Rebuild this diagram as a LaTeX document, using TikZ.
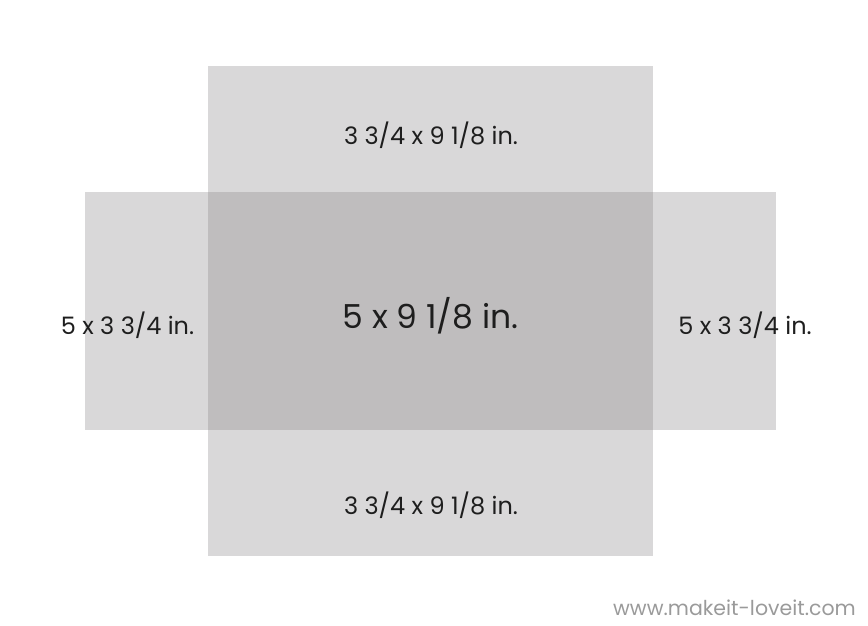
\documentclass[tikz,border=0pt]{standalone}
\usepackage{fontspec}
\setmainfont{Poppins}
\usepackage{color}
\definecolor{flapgray}{HTML}{D9D8D9}
\definecolor{basegray}{HTML}{BFBDBE}
\definecolor{labelgray}{HTML}{1E1E1E}
\definecolor{markgray}{HTML}{9A9A9A}

\tikzset{
	panel/.style={fill=flapgray, draw=none, inner sep=0pt},
	dimlabel/.style={text=labelgray, inner sep=0pt, font=\fontsize{24}{28}\selectfont}
}

\begin{document}
\begin{tikzpicture}[x=1pt,y=-1pt]
	\useasboundingbox (0,0) rectangle (868,625);
	% flaps round the base
	\node[panel, minimum width=445, minimum height=126] (top) at (430.5,129) {};
	\node[panel, minimum width=445, minimum height=126] (bottom) at (430.5,493) {};
	\node[panel, minimum width=123, minimum height=238] (left) at (146.5,311) {};
	\node[panel, minimum width=123, minimum height=238] (right) at (714.5,311) {};
	% base
	\node[panel, fill=basegray, minimum width=445, minimum height=238] (base) at (430.5,311) {};
	% sizes
	\node[dimlabel] (toplabel) at (431,135) {3 3/4 x 9 1/8 in.};
	\node[dimlabel] (bottomlabel) at (431,505) {3 3/4 x 9 1/8 in.};
	\node[dimlabel] (leftlabel) at (127.5,325) {5 x 3 3/4 in.};
	\node[dimlabel] (rightlabel) at (745,325) {5 x 3 3/4 in.};
	\node[dimlabel, font=\fontsize{33}{38}\selectfont] (baselabel) at (430.5,316) {5 x 9 1/8 in.};
	\node[text=markgray, inner sep=0pt, font=\fontsize{20.5}{24}\selectfont] (mark) at (734.5,608) {www.makeit-loveit.com};
\end{tikzpicture}
\end{document}
